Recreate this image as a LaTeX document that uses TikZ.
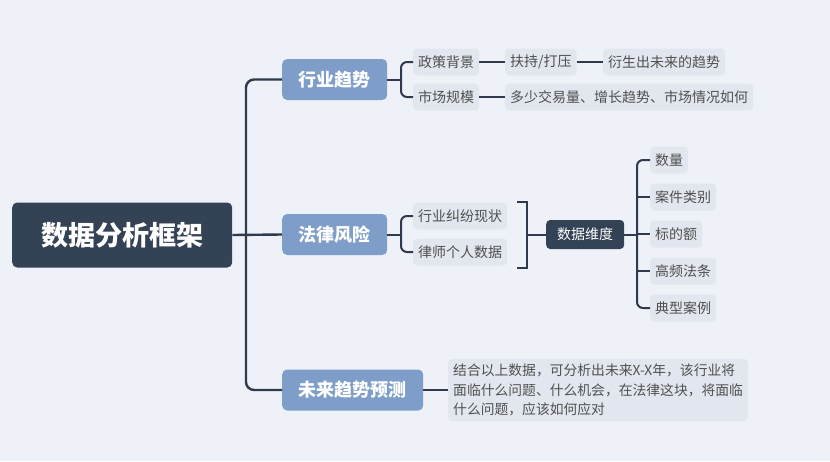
\documentclass[tikz,border=0pt]{standalone}
\usepackage{fontspec}
\setmainfont{Noto Sans CJK SC}
\definecolor{bg}{HTML}{EEF2F8}
\definecolor{navy}{HTML}{344256}
\definecolor{steel}{HTML}{7E9DC8}
\definecolor{leaf}{HTML}{E2E6EE}
\definecolor{txt}{HTML}{505050}
\definecolor{ln}{HTML}{2F3A4C}
\tikzset{
  rootbox/.style={fill=navy, text=white, rounded corners=5pt, font=\fontsize{27}{30}\selectfont\bfseries, inner xsep=29pt, minimum height=65pt, anchor=west},
  mainbox/.style={fill=steel, text=white, rounded corners=5pt, font=\fontsize{18}{20}\selectfont\bfseries, inner xsep=16.5pt, minimum height=41pt, anchor=west},
  leafbox/.style={fill=leaf, text=txt, rounded corners=4pt, font=\fontsize{14}{16}\selectfont, inner xsep=5pt, minimum height=27pt, anchor=west},
  darkbox/.style={fill=navy, text=white, rounded corners=4pt, font=\fontsize{14}{16}\selectfont, inner xsep=11pt, minimum height=29pt, anchor=west},
  conn/.style={draw=ln, line width=2pt},
}
\begin{document}
\begin{tikzpicture}[x=1pt,y=-1pt]
\fill[bg] (0,0) rectangle (830,461);
\useasboundingbox (0,0) rectangle (830,461);

\node[rootbox] (root) at (12,235) {数据分析框架};
\node[mainbox] (a1) at (282,79.5) {行业趋势};
\node[mainbox] (a2) at (282,234.5) {法律风险};
\node[mainbox] (a3) at (282,390) {未来趋势预测};

\node[leafbox] (c1) at (413,62) {政策背景};
\node[leafbox] (c2) at (413,97) {市场规模};
\node[leafbox] (d1) at (505,62) {扶持/打压};
\node[leafbox] (e1) at (603,62) {衍生出未来的趋势};
\node[leafbox] (d2) at (505,97) {多少交易量、增长趋势、市场情况如何};

\node[leafbox] (f1) at (413,216) {行业纠纷现状};
\node[leafbox] (f2) at (413,252) {律师个人数据};
\node[darkbox] (g) at (546,234.5) {数据维度};

\node[leafbox] (h1) at (650,160) {数量};
\node[leafbox] (h2) at (650,197) {案件类别};
\node[leafbox] (h3) at (650,234) {标的额};
\node[leafbox] (h4) at (650,271) {高频法条};
\node[leafbox] (h5) at (650,308) {典型案例};

\node[leafbox, align=left, inner xsep=5pt, inner ysep=5pt, font=\fontsize{13.8}{19.5}\selectfont] (i) at (448,390)
  {结合以上数据，可分析出未来X-X年，该行业将\\面临什么问题、什么机会，在法律这块，将面临\\什么问题，应该如何应对};

% trunk
\coordinate (tx) at (246,0);
\draw[conn, line width=2.4pt, rounded corners=8pt] (a1.west) -| (tx |- root.east) |- (a3.west);
\draw[conn, line width=2.4pt] (root.east) -- (a2.west);

% 行业趋势 children
\coordinate (b1) at (401,0);
\draw[conn] (a1.east) -- (b1 |- a1.east);
\draw[conn, rounded corners=6pt] (c1.west) -| (b1 |- a1.east) |- (c2.west);
\draw[conn] (c1.east) -- (d1.west);
\draw[conn] (d1.east) -- (e1.west);
\draw[conn] (c2.east) -- (d2.west);

% 法律风险 children
\draw[conn] (a2.east) -- (b1 |- a2.east);
\draw[conn, rounded corners=6pt] (f1.west) -| (b1 |- a2.east) |- (f2.west);
\coordinate (br) at (527,0);
\draw[conn] (517,202) -- (br |- 0,202) -- (br |- 0,268) -- (517,268);
\draw[conn] (br |- g.west) -- (g.west);

% 数据维度 children
\coordinate (b2) at (637,0);
\draw[conn] (g.east) -- (b2 |- g.east);
\draw[conn, rounded corners=6pt] (h1.west) -| (b2 |- h3.west) |- (h5.west);
\draw[conn] (b2 |- h2.west) -- (h2.west);
\draw[conn] (b2 |- h3.west) -- (h3.west);
\draw[conn] (b2 |- h4.west) -- (h4.west);

% 未来趋势预测 child
\draw[conn] (a3.east) -- (i.west);
\end{tikzpicture}
\end{document}
